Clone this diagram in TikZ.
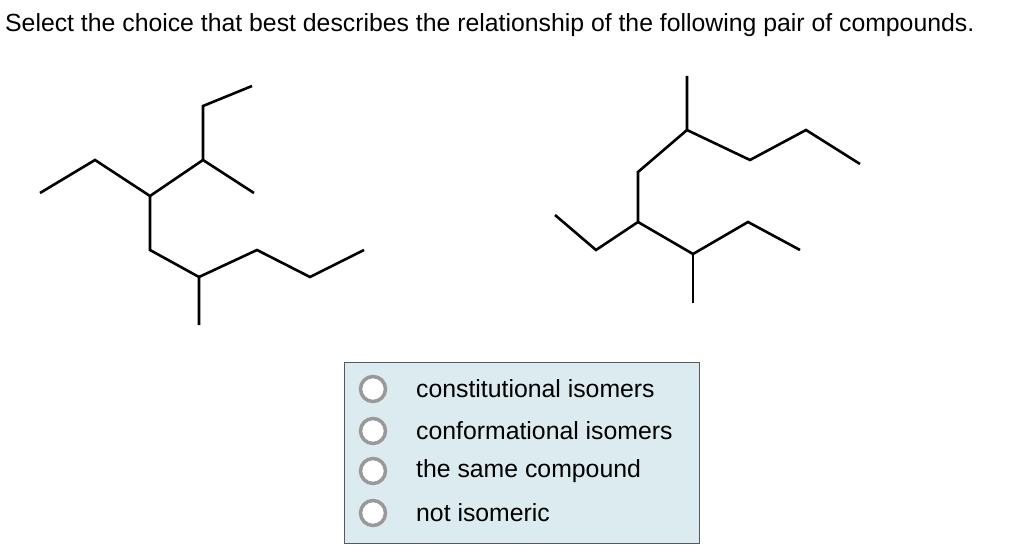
\documentclass[tikz,border=0pt]{standalone}
\usepackage{fontspec}
\setmainfont{Liberation Sans}
\begin{document}
\begin{tikzpicture}[x=1pt,y=-1pt,
  bond/.style={line width=2.6pt,line join=miter,line cap=butt},
  radio/.style={circle,draw=gray!80,line width=3.5pt,fill=white,minimum size=25pt,inner sep=0pt},
  opt/.style={anchor=west,font=\fontsize{24.8}{28}\selectfont,inner sep=0pt}]
\useasboundingbox (0,0) rectangle (1024,559);
\node[anchor=base west,inner sep=0pt,font=\fontsize{24.8}{28}\selectfont] (title) at (5,32) {Select the choice that best describes the relationship of the following pair of compounds.};
% left molecule
\coordinate (a1) at (252,86); \coordinate (a2) at (203,106); \coordinate (a3) at (203,160);
\coordinate (a4) at (254,193); \coordinate (a5) at (150,196); \coordinate (a6) at (95,160);
\coordinate (a7) at (40,193); \coordinate (a8) at (150,250); \coordinate (a9) at (199,277);
\coordinate (a10) at (199,325); \coordinate (a11) at (257,250); \coordinate (a12) at (310,277);
\coordinate (a13) at (364,250);
\draw[bond] (a1)--(a2)--(a3)--(a4);
\draw[bond] (a3)--(a5)--(a6)--(a7);
\draw[bond] (a5)--(a8)--(a9)--(a10);
\draw[bond] (a9)--(a11)--(a12)--(a13);
% right molecule
\coordinate (b1) at (687,76); \coordinate (b2) at (687,130); \coordinate (b3) at (750,160);
\coordinate (b4) at (806,130); \coordinate (b5) at (860,164); \coordinate (b6) at (638,172);
\coordinate (b7) at (638,222); \coordinate (b8) at (596,250); \coordinate (b9) at (555,215);
\coordinate (b10) at (693,254); \coordinate (b11) at (748,222); \coordinate (b12) at (800,250);
\coordinate (b13) at (693,303);
\draw[bond] (b1)--(b2)--(b3)--(b4)--(b5);
\draw[bond] (b2)--(b6)--(b7)--(b8)--(b9);
\draw[bond] (b7)--(b10)--(b11)--(b12);
\draw[bond] (b10)--(b13);
% answer box
\draw[fill={rgb,255:red,220;green,235;blue,240},draw=gray!70!black,line width=1pt] (344,362) rectangle (699,543);
\foreach \y/\t [count=\i] in {389/constitutional isomers,431/conformational isomers,471/the same compound,513/not isomeric}{
  \node[radio] (r\i) at (373,\y) {};
  \node[opt] (o\i) at (416,\y) {\t};
}
\end{tikzpicture}
\end{document}
